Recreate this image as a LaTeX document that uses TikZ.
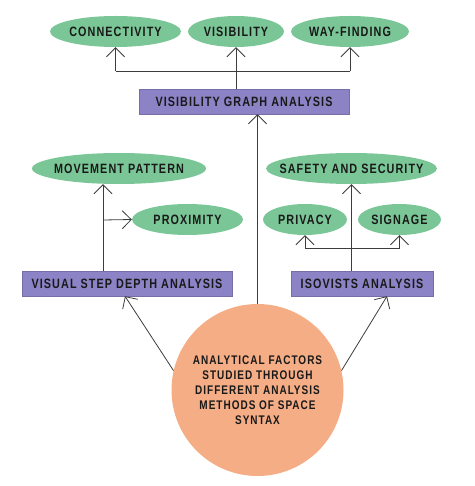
\documentclass[tikz,border=0pt]{standalone}
\usepackage{fontspec}
\setmainfont[LetterSpace=8,FakeStretch=0.8]{Liberation Sans}
\usetikzlibrary{shapes,arrows.meta,positioning,calc}
\definecolor{factorgreen}{RGB}{122,198,150}
\definecolor{methodpurple}{RGB}{140,130,198}
\definecolor{coreorange}{RGB}{244,173,133}
\definecolor{inkgrey}{RGB}{60,60,60}
\newcommand{\ctrtext}[1]{\makebox[0pt]{#1}}

\begin{document}
\begin{tikzpicture}[x=1pt,y=-1pt,
    factor/.style={ellipse, fill=factorgreen, inner sep=0pt, minimum height=31pt, text=black!90},
    method/.style={rectangle, fill=methodpurple, draw=methodpurple!85!black, inner sep=0pt, minimum height=25pt, text=black!90},
    link/.style={-{Straight Barb[length=9pt,width=18pt]}, draw=inkgrey, line width=0.8pt},
    font=\bfseries\fontsize{13.5}{15}\selectfont]
    \useasboundingbox (0,0) rectangle (474,486);

    % analysis methods
    \node[method, minimum width=210pt] (vga) at (244,101.5) {\ctrtext{VISIBILITY GRAPH ANALYSIS}};
    \node[method, minimum width=210pt] (vsda) at (127,283.5) {\ctrtext{VISUAL STEP DEPTH ANALYSIS}};
    \node[method, minimum width=142pt] (iso) at (362,283.5) {\ctrtext{ISOVISTS ANALYSIS}};

    % factors
    \node[factor, minimum width=131pt] (conn) at (115.5,31.5) {\ctrtext{CONNECTIVITY}};
    \node[factor, minimum width=96pt] (vis) at (236,31.5) {\ctrtext{VISIBILITY}};
    \node[factor, minimum width=118pt] (way) at (350,31.5) {\ctrtext{WAY-FINDING}};
    \node[factor, minimum width=174pt] (move) at (119,168.5) {\ctrtext{MOVEMENT PATTERN}};
    \node[factor, minimum width=111pt] (prox) at (187.5,219.5) {\ctrtext{PROXIMITY}};
    \node[factor, minimum width=171pt] (safe) at (351.5,168.5) {\ctrtext{SAFETY AND SECURITY}};
    \node[factor, minimum width=84pt] (priv) at (305,219.5) {\ctrtext{PRIVACY}};
    \node[factor, minimum width=83pt] (sign) at (399.5,219.5) {\ctrtext{SIGNAGE}};

    % centre
    \node[circle, fill=coreorange, minimum size=172pt, inner sep=0pt, align=center,
      font=\bfseries\fontsize{12.5}{15}\selectfont, text=black!90] (core) at (257.5,390)
      {ANALYTICAL FACTORS\\STUDIED THROUGH\\DIFFERENT ANALYSIS\\METHODS OF SPACE\\SYNTAX};

    % visibility graph analysis
    \coordinate (topbar) at (0,71);
    \draw[link] (vis.south |- vga.north) -- (vis.south);
    \draw[inkgrey, line width=0.8pt] (conn.south |- topbar) -- (way.south |- topbar);
    \draw[link] (conn.south |- topbar) -- (conn.south);
    \draw[link] (way.south |- topbar) -- (way.south);

    % visual step depth analysis
    \coordinate (movestem) at (103,220);
    \draw[link] (vsda.north -| movestem) -- (move.south -| movestem);
    \draw[link] (movestem) -- (prox.west);

    % isovists analysis
    \coordinate (isobar) at (0,248);
    \draw[link] (iso.north -| safe.south) -- (safe.south);
    \draw[inkgrey, line width=0.8pt] (priv.south |- isobar) -- (sign.south |- isobar);
    \draw[link] (priv.south |- isobar) -- (priv.south);
    \draw[link] (sign.south |- isobar) -- (sign.south);

    % from the centre
    \draw[link] (core.north) -- (core.north |- vga.south);
    \draw[link] (core.167) -- ($(vsda.south)+(-2,0)$);
    \draw[link] (core.13) -- ($(iso.south)+(25,0)$);
\end{tikzpicture}
\end{document}
